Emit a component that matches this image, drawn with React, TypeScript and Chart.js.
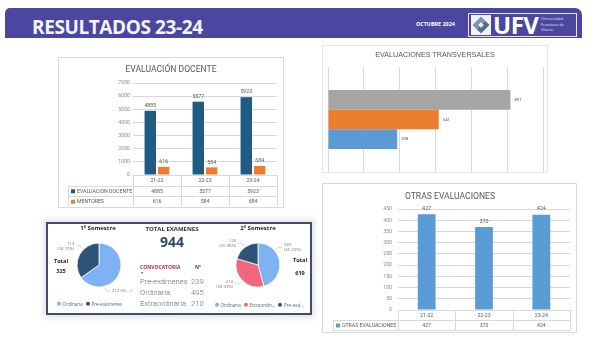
import React, { useEffect, useRef } from "react";
import { Chart, registerables } from "chart.js";
Chart.register(...registerables);

// ---------- DATA ----------
const docCategories = ["21-22", "22-23", "23-24"];
const evalDocenteValues = [4885, 5577, 5923];
const mentoresValues = [616, 584, 684];
const docMax = 7000;
const docStep = 1000;

const transSeries = ["Serie 3", "Serie 2", "Serie 1"];
const transValues = [891, 541, 338];
const transMax = 1050;
const transStep = 175;

const otrasCategories = ["21-22", "22-23", "23-24"];
const otrasValues = [427, 370, 424];
const otrasMax = 450;
const otrasStep = 50;

const sem1Labels = ["Ordinaria", "Pre-exámenes"];
const sem1Values = [212, 113];
const sem2Labels = ["Ordinaria", "Extraordinaria", "Pre-exámenes"];
const sem2Values = [283, 210, 126];
const sem2LegendText = ["Ordinaria", "Extraordin...", "Pre-exá..."];

const convocatorias = ["Pre-exámenes", "Ordinaria", "Extraordinaria"];
const convocatoriaTotals = [239, 495, 210];
const totalExamenes = 944;

// ---------- STYLE ----------
const FONT_XL = "Roboto, 'Liberation Sans', sans-serif";
const FONT_PBI = "'Open Sans', 'DejaVu Sans', sans-serif";
const C_DOC = "#1f5b82";
const C_ORANGE = "#ed7d31";
const C_GRAY = "#a5a5a5";
const C_BLUE = "#5b9bd5";
const C_ORD = "#7fb2f2";
const C_PRE = "#2f5378";
const C_EXT = "#f2677c";

Chart.defaults.font.family = FONT_XL;

// ---------- PLUGINS ----------
const valueLabelPlugin = {
  id: "valueLabels",
  afterDatasetsDraw(chart: any, _a: any, opts: any) {
    if (!opts || !opts.enabled) return;
    const { ctx } = chart;
    ctx.save();
    ctx.font = `${opts.size}px ${FONT_XL}`;
    ctx.fillStyle = opts.color;
    const horizontal = chart.options.indexAxis === "y";
    chart.data.datasets.forEach((ds: any, di: number) => {
      const meta = chart.getDatasetMeta(di);
      meta.data.forEach((el: any, i: number) => {
        const text = String(ds.data[i]);
        if (horizontal) {
          ctx.textAlign = "left";
          ctx.textBaseline = "middle";
          ctx.fillText(text, el.x + opts.offset, el.y);
        } else {
          ctx.textAlign = "center";
          ctx.textBaseline = "bottom";
          ctx.fillText(text, el.x, el.y - opts.offset);
        }
      });
    });
    ctx.restore();
  },
};

const dataTablePlugin = {
  id: "dataTable",
  afterDraw(chart: any, _a: any, opts: any) {
    if (!opts || !opts.rows) return;
    const { ctx, chartArea } = chart;
    const xs = chart.scales.x;
    const n = opts.categories.length;
    const x0 = chartArea.left;
    const x1 = chartArea.right;
    const cw = (x1 - x0) / n;
    const top = chartArea.bottom;
    const rh = opts.rowHeight;
    const L = opts.left;
    const bottom = top + rh * (1 + opts.rows.length);
    const px = (v: number) => Math.round(v) + 0.5;
    ctx.save();
    ctx.strokeStyle = "#d9d9d9";
    ctx.lineWidth = 1;
    ctx.beginPath();
    ctx.moveTo(x0, px(top));
    ctx.lineTo(x1, px(top));
    for (let r = 1; r <= opts.rows.length + 1; r++) {
      const y = px(top + rh * r);
      ctx.moveTo(L, y);
      ctx.lineTo(x1, y);
    }
    for (let i = 0; i <= n; i++) {
      const x = px(x0 + cw * i);
      ctx.moveTo(x, top);
      ctx.lineTo(x, bottom);
    }
    ctx.moveTo(px(L), top + rh);
    ctx.lineTo(px(L), bottom);
    ctx.stroke();
    ctx.font = `${opts.size}px ${FONT_XL}`;
    ctx.fillStyle = "#595959";
    ctx.textBaseline = "middle";
    ctx.textAlign = "center";
    opts.categories.forEach((c: string, i: number) => {
      ctx.fillText(c, xs.getPixelForValue(i), top + rh / 2 + 0.5);
    });
    opts.rows.forEach((row: any, r: number) => {
      const yc = top + rh * (r + 1) + rh / 2 + 0.5;
      ctx.fillStyle = row.color;
      ctx.fillRect(L + 3, yc - 2, 4, 4);
      ctx.fillStyle = "#595959";
      ctx.textAlign = "left";
      ctx.fillText(row.label, L + 9, yc);
      ctx.textAlign = "center";
      row.values.forEach((v: number, i: number) => {
        ctx.fillText(String(v), xs.getPixelForValue(i), yc);
      });
    });
    ctx.restore();
  },
};

const pieLabelPlugin = {
  id: "pieLabels",
  afterDatasetsDraw(chart: any, _a: any, opts: any) {
    if (!opts || !opts.enabled) return;
    const { ctx } = chart;
    const ds = chart.data.datasets[0];
    const total = ds.data.reduce((a: number, b: number) => a + b, 0);
    const meta = chart.getDatasetMeta(0);
    ctx.save();
    ctx.font = `${opts.size}px ${FONT_PBI}`;
    ctx.fillStyle = "#777";
    ctx.strokeStyle = "#bbb";
    ctx.lineWidth = 0.6;
    meta.data.forEach((arc: any, i: number) => {
      const p = arc.getProps(["x", "y", "startAngle", "endAngle", "outerRadius"], true);
      const f = opts.anchor ? opts.anchor[i] : 0.5;
      const mid = p.startAngle + (p.endAngle - p.startAngle) * f;
      const c = Math.cos(mid);
      const s = Math.sin(mid);
      const a0x = p.x + c * (p.outerRadius + 1);
      const a0y = p.y + s * (p.outerRadius + 1);
      const a1x = p.x + c * (p.outerRadius + opts.elbow);
      const a1y = p.y + s * (p.outerRadius + opts.elbow);
      const dir = c >= 0 ? 1 : -1;
      const a2x = a1x + dir * opts.tail;
      ctx.beginPath();
      ctx.moveTo(a0x, a0y);
      ctx.lineTo(a1x, a1y);
      ctx.lineTo(a2x, a1y);
      ctx.stroke();
      const v = ds.data[i];
      const pct = ((v / total) * 100).toFixed(2) + "%";
      ctx.textAlign = dir > 0 ? "left" : "right";
      ctx.textBaseline = "middle";
      const tx = a2x + dir * 1.5;
      if (opts.oneLine && opts.oneLine[i]) {
        const full = `${v} (${pct})`;
        const t = full.length > opts.maxChars ? full.slice(0, opts.maxChars) + "...)" : full;
        ctx.fillText(t, tx, a1y);
      } else {
        ctx.fillText(String(v), tx, a1y - opts.size * 0.6);
        ctx.fillText(`(${pct})`, tx, a1y + opts.size * 0.6);
      }
    });
    ctx.restore();
  },
};

Chart.register(valueLabelPlugin, dataTablePlugin, pieLabelPlugin);

// ---------- COMPONENTS ----------
function ChartBox({ left, top, width, height, makeConfig }: any) {
  const ref = useRef<HTMLCanvasElement>(null);
  useEffect(() => {
    const chart = new Chart(ref.current as HTMLCanvasElement, makeConfig());
    return () => chart.destroy();
  }, []);
  return (
    <canvas
      ref={ref}
      width={width}
      height={height}
      style={{ position: "absolute", left, top, width, height }}
    />
  );
}

function Txt({ x, y, size, children, weight = 400, color = "#333", align = "left", family = FONT_PBI, style }: any) {
  const tx = align === "center" ? "-50%" : align === "right" ? "-100%" : "0";
  return (
    <div
      style={{
        position: "absolute",
        left: x,
        top: y,
        fontSize: size,
        fontWeight: weight,
        color,
        fontFamily: family,
        lineHeight: 1,
        whiteSpace: "nowrap",
        transform: `translate(${tx}, -50%)`,
        ...style,
      }}
    >
      {children}
    </div>
  );
}

function Legend({ x, y, items }: any) {
  return (
    <div
      style={{
        position: "absolute",
        left: x,
        top: y,
        transform: "translateY(-50%)",
        display: "flex",
        alignItems: "center",
        fontFamily: FONT_PBI,
        fontSize: 4.6,
        color: "#666",
        whiteSpace: "nowrap",
        lineHeight: 1,
      }}
    >
      {items.map((it: any, i: number) => (
        <span key={i} style={{ display: "flex", alignItems: "center", marginRight: 3 }}>
          <span style={{ width: 4, height: 4, borderRadius: 2, background: it.color, marginRight: 1.5, display: "inline-block" }} />
          {it.label}
        </span>
      ))}
    </div>
  );
}

const noPlugins = { legend: { display: false }, tooltip: { enabled: false } };
const plainTick = (v: any) => String(v);

const docConfig = () => ({
  type: "bar",
  data: {
    labels: docCategories,
    datasets: [
      { label: "EVALUACIÓN DOCENTE", data: evalDocenteValues, backgroundColor: C_DOC, categoryPercentage: 0.56, barPercentage: 0.85 },
      { label: "MENTORES", data: mentoresValues, backgroundColor: C_ORANGE, categoryPercentage: 0.56, barPercentage: 0.85 },
    ],
  },
  options: {
    responsive: false,
    animation: false,
    layout: { padding: { top: 26, right: 7, bottom: 33, left: 0 } },
    plugins: {
      ...noPlugins,
      valueLabels: { enabled: true, size: 5.2, color: "#595959", offset: 2.5 },
      dataTable: {
        categories: docCategories,
        rowHeight: 10.5,
        left: 10,
        size: 5.2,
        rows: [
          { label: "EVALUACIÓN DOCENTE", color: C_DOC, values: evalDocenteValues },
          { label: "MENTORES", color: C_ORANGE, values: mentoresValues },
        ],
      },
    },
    scales: {
      x: { display: false },
      y: {
        min: 0,
        max: docMax,
        ticks: { stepSize: docStep, font: { size: 5.2 }, color: "#8c8c8c", padding: 3, callback: plainTick },
        grid: { color: "#d9d9d9", drawTicks: false },
        border: { display: false },
        afterFit: (s: any) => { s.width = 75; },
      },
    },
  },
});

const transConfig = () => ({
  type: "bar",
  data: {
    labels: [""],
    datasets: [
      { label: transSeries[0], data: [transValues[0]], backgroundColor: C_GRAY, categoryPercentage: 0.56, barPercentage: 1 },
      { label: transSeries[1], data: [transValues[1]], backgroundColor: C_ORANGE, categoryPercentage: 0.56, barPercentage: 1 },
      { label: transSeries[2], data: [transValues[2]], backgroundColor: C_BLUE, categoryPercentage: 0.56, barPercentage: 1 },
    ],
  },
  options: {
    indexAxis: "y",
    responsive: false,
    animation: false,
    layout: { padding: { top: 22, right: 5, bottom: 1, left: 6 } },
    plugins: { ...noPlugins, valueLabels: { enabled: true, size: 4.3, color: "#595959", offset: 4 } },
    scales: {
      x: {
        min: 0,
        max: transMax,
        ticks: { stepSize: transStep, display: false },
        grid: { color: "#d9d9d9", drawTicks: false },
        border: { display: false },
        afterFit: (s: any) => { s.height = 0; },
      },
      y: { display: false },
    },
  },
});

const otrasConfig = () => ({
  type: "bar",
  data: {
    labels: otrasCategories,
    datasets: [
      { label: "OTRAS EVALUACIONES", data: otrasValues, backgroundColor: C_BLUE, categoryPercentage: 0.62, barPercentage: 0.5 },
    ],
  },
  options: {
    responsive: false,
    animation: false,
    layout: { padding: { top: 26, right: 7, bottom: 23, left: 0 } },
    plugins: {
      ...noPlugins,
      valueLabels: { enabled: true, size: 5.4, color: "#595959", offset: 3 },
      dataTable: {
        categories: otrasCategories,
        rowHeight: 10,
        left: 11,
        size: 5.2,
        rows: [{ label: "OTRAS EVALUACIONES", color: C_BLUE, values: otrasValues }],
      },
    },
    scales: {
      x: { display: false },
      y: {
        min: 0,
        max: otrasMax,
        ticks: { stepSize: otrasStep, font: { size: 5.2 }, color: "#8c8c8c", padding: 6, callback: plainTick },
        grid: { color: "#d9d9d9", drawTicks: false },
        border: { display: false },
        afterFit: (s: any) => { s.width = 76; },
      },
    },
  },
});

const pieConfig = (labels: string[], values: number[], colors: string[], oneLine: boolean[], anchor: number[]) => () => ({
  type: "pie",
  data: {
    labels,
    datasets: [{ data: values, backgroundColor: colors, borderColor: "#ffffff", borderWidth: 0.8, radius: 22 }],
  },
  options: {
    responsive: false,
    animation: false,
    layout: { padding: 0 },
    plugins: {
      ...noPlugins,
      pieLabels: { enabled: true, size: 4.3, elbow: 5, tail: 4, oneLine, anchor, maxChars: 8 },
    },
  },
});

export default function App() {
  const panel = (l: number, t: number, w: number, h: number, extra: any = {}) => ({
    position: "absolute" as const,
    left: l,
    top: t,
    width: w,
    height: h,
    boxSizing: "border-box" as const,
    border: "1px solid #d9d9d9",
    background: "#fff",
    ...extra,
  });
  return (
    <div style={{ position: "fixed", left: 0, top: 0, width: 600, height: 338, background: "#fff", overflow: "hidden" }}>
      {/* Header */}
      <div style={{ position: "absolute", left: 5, top: 8, width: 577, height: 30, background: "#4b469f", borderRadius: "5px 7px 0 0" }} />
      <Txt x={32} y={27} size={19} weight={700} color="#f4f4fa" style={{ letterSpacing: -0.4 }}>RESULTADOS 23-24</Txt>
      <Txt x={416} y={25} size={5.4} weight={700} color="#ffffff">OCTUBRE 2024</Txt>
      <div style={{ position: "absolute", left: 468, top: 13, width: 109, height: 24, boxSizing: "border-box", border: "1px solid #e8e8f2" }} />
      <div style={{ position: "absolute", left: 471, top: 15, width: 20, height: 20, background: "#f2f2f6", overflow: "hidden" }}>
        <div style={{ position: "absolute", left: 4, top: 4, width: 12, height: 12, transform: "rotate(45deg)", background: "linear-gradient(90deg, #7a93b0 0 50%, #4f6f92 50% 100%)" }} />
        <div style={{ position: "absolute", left: 8, top: 8, width: 4, height: 4, transform: "rotate(45deg)", background: "#f2f2f6" }} />
      </div>
      <Txt x={493} y={25} size={24} weight={700} color="#ffffff" style={{ letterSpacing: -0.5 }}>UFV</Txt>
      <div style={{ position: "absolute", left: 541, top: 16, fontFamily: FONT_PBI, fontSize: 4, lineHeight: "5.5px", color: "#e6e6f0", whiteSpace: "nowrap" }}>
        Universidad<br />Francisco de<br />Vitoria
      </div>

      {/* Panel A: Evaluación docente */}
      <div style={panel(58, 57, 226, 151)} />
      <ChartBox left={58} top={57} width={226} height={151} makeConfig={docConfig} />
      <Txt x={171} y={69} size={8.6} color="#595959" family={FONT_XL} align="center">EVALUACIÓN DOCENTE</Txt>

      {/* Panel B: Evaluaciones transversales */}
      <div style={panel(322, 45, 226, 128, { borderColor: "#e6e6e6" })} />
      <ChartBox left={322} top={45} width={226} height={128} makeConfig={transConfig} />
      <Txt x={435} y={55} size={7.2} color="#595959" family="'Liberation Sans', sans-serif" align="center">EVALUACIONES TRANSVERSALES</Txt>

      {/* Panel C: Otras evaluaciones */}
      <div style={panel(322, 183, 255, 150)} />
      <ChartBox left={322} top={183} width={255} height={150} makeConfig={otrasConfig} />
      <Txt x={450} y={196} size={8.6} color="#595959" family={FONT_XL} align="center">OTRAS EVALUACIONES</Txt>

      {/* Panel D: Exámenes */}
      <div style={panel(46, 222, 266, 93, { border: "2px solid #3d4d6b", boxShadow: "0 0 5px 3px rgba(0,0,0,0.10)" })} />
      <Txt x={98} y={228} size={6} weight={700} color="#252423" align="center">1º Semestre</Txt>
      <ChartBox left={49} top={232} width={100} height={66} makeConfig={pieConfig(sem1Labels, sem1Values, [C_ORD, C_PRE], [true, false], [0.7, 0.64])} />
      <Txt x={61} y={262} size={5.6} weight={700} color="#252423" align="center">Total</Txt>
      <Txt x={61} y={272} size={5.6} weight={700} color="#252423" align="center">{sem1Values.reduce((a, b) => a + b, 0)}</Txt>
      <Legend x={57} y={304} items={[{ label: sem1Labels[0], color: C_ORD }, { label: sem1Labels[1], color: C_PRE }]} />

      <Txt x={172} y={229} size={6} weight={700} color="#333" align="center">TOTAL EXAMENES</Txt>
      <Txt x={172} y={242} size={14} weight={700} color="#2e4a6b" align="center">{totalExamenes}</Txt>
      <Txt x={140} y={267} size={5} weight={700} color="#a3343b">CONVOCATORIA</Txt>
      <Txt x={141} y={272.5} size={4} color="#555">▾</Txt>
      <Txt x={195} y={267} size={5} weight={700} color="#444">Nº</Txt>
      {convocatorias.map((c, i) => (
        <React.Fragment key={c}>
          <Txt x={140} y={282 + i * 11} size={7.6} weight={300} color="#6b6b6b" family={FONT_XL}>{c}</Txt>
          <Txt x={191} y={282 + i * 11} size={7.6} weight={300} color="#6b6b6b" family={FONT_XL}>{convocatoriaTotals[i]}</Txt>
        </React.Fragment>
      ))}

      <Txt x={258} y={228} size={6} weight={700} color="#252423" align="center">2º Semestre</Txt>
      <ChartBox left={208} top={232} width={100} height={66} makeConfig={pieConfig(sem2Labels, sem2Values, [C_ORD, C_EXT, C_PRE], [false, false, false], [0.3, 0.5, 0.5])} />
      <Txt x={300} y={261} size={5.6} weight={700} color="#252423" align="center">Total</Txt>
      <Txt x={300} y={274} size={5.6} weight={700} color="#252423" align="center">{sem2Values.reduce((a, b) => a + b, 0)}</Txt>
      <Legend x={215} y={305} items={[{ label: sem2LegendText[0], color: C_ORD }, { label: sem2LegendText[1], color: C_EXT }, { label: sem2LegendText[2], color: C_PRE }]} />
    </div>
  );
}
